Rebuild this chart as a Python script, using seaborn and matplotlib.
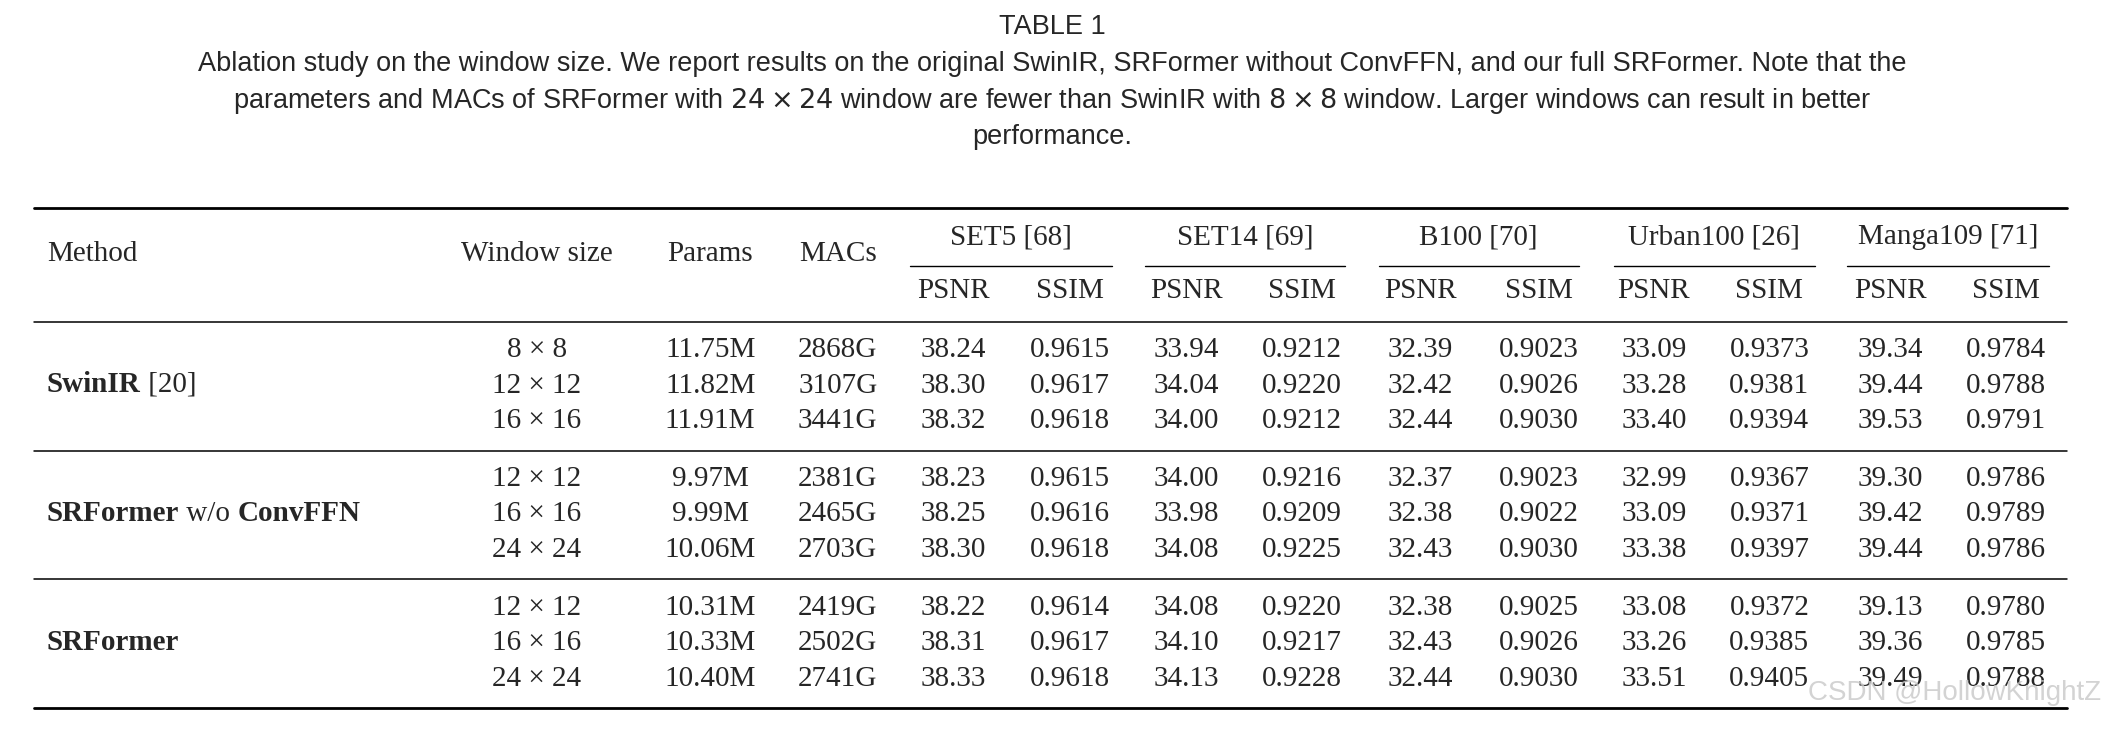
import matplotlib
matplotlib.use("Agg")
import matplotlib.pyplot as plt
import seaborn as sns

sns.set_theme(style="white")
plt.rcParams['font.family'] = ['Liberation Serif', 'DejaVu Serif']

# table data
methods = [("SwinIR", "", " [20]"), ("SRFormer", " w/o ", "ConvFFN"), ("SRFormer", "", "")]
windows = [["8 × 8", "12 × 12", "16 × 16"],
           ["12 × 12", "16 × 16", "24 × 24"],
           ["12 × 12", "16 × 16", "24 × 24"]]
params = [["11.75M", "11.82M", "11.91M"],
          ["9.97M", "9.99M", "10.06M"],
          ["10.31M", "10.33M", "10.40M"]]
macs = [["2868G", "3107G", "3441G"],
        ["2381G", "2465G", "2703G"],
        ["2419G", "2502G", "2741G"]]
scores = [
    [["38.24", "0.9615", "33.94", "0.9212", "32.39", "0.9023", "33.09", "0.9373", "39.34", "0.9784"],
     ["38.30", "0.9617", "34.04", "0.9220", "32.42", "0.9026", "33.28", "0.9381", "39.44", "0.9788"],
     ["38.32", "0.9618", "34.00", "0.9212", "32.44", "0.9030", "33.40", "0.9394", "39.53", "0.9791"]],
    [["38.23", "0.9615", "34.00", "0.9216", "32.37", "0.9023", "32.99", "0.9367", "39.30", "0.9786"],
     ["38.25", "0.9616", "33.98", "0.9209", "32.38", "0.9022", "33.09", "0.9371", "39.42", "0.9789"],
     ["38.30", "0.9618", "34.08", "0.9225", "32.43", "0.9030", "33.38", "0.9397", "39.44", "0.9786"]],
    [["38.22", "0.9614", "34.08", "0.9220", "32.38", "0.9025", "33.08", "0.9372", "39.13", "0.9780"],
     ["38.31", "0.9617", "34.10", "0.9217", "32.43", "0.9026", "33.26", "0.9385", "39.36", "0.9785"],
     ["38.33", "0.9618", "34.13", "0.9228", "32.44", "0.9030", "33.51", "0.9405", "39.49", "0.9788"]],
]
datasets = ["SET5 [68]", "SET14 [69]", "B100 [70]", "Urban100 [26]", "Manga109 [71]"]
caption = ["Ablation study on the window size. We report results on the original SwinIR, SRFormer without ConvFFN, and our full SRFormer. Note that the",
           "parameters and MACs of SRFormer with $24\\times24$ window are fewer than SwinIR with $8\\times8$ window. Larger windows can result in better",
           "performance."]

W, H = 1568, 545
fig = plt.figure(figsize=(21.05, 7.31), dpi=100)
ax = fig.add_axes([0, 0, 1, 1])
ax.set_xlim(0, W)
ax.set_ylim(H, 0)
ax.axis('off')

fs = 21
sans = ['Liberation Sans', 'DejaVu Sans']
ax.text(784, 20, "TABLE 1", ha='center', va='center', fontsize=19.5, family=sans)
for i, line in enumerate(caption):
    ax.text(784, 48 + 27 * i, line, ha='center', va='center', fontsize=19.5, family=sans)

# rules
ax.plot([25, 1540], [155, 155], color='black', lw=2)
ax.plot([25, 1540], [528, 528], color='black', lw=2)
for y in [240, 336, 432]:
    ax.plot([25, 1540], [y, y], color='black', lw=1.1)

col_x = [710, 797, 884, 970, 1058, 1146, 1232, 1318, 1408, 1494]
spans = [(678, 828), (853, 1002), (1027, 1176), (1202, 1352), (1376, 1526)]
ax.text(35, 189, "Method", ha='left', va='center', fontsize=fs)
ax.text(400, 189, "Window size", ha='center', va='center', fontsize=fs)
ax.text(529, 189, "Params", ha='center', va='center', fontsize=fs)
ax.text(624, 189, "MACs", ha='center', va='center', fontsize=fs)
for name, (a, b) in zip(datasets, spans):
    ax.text((a + b) / 2, 177, name, ha='center', va='center', fontsize=fs)
    ax.plot([a, b], [198, 198], color='black', lw=1)
for j, x in enumerate(col_x):
    ax.text(x, 217, "PSNR" if j % 2 == 0 else "SSIM", ha='center', va='center', fontsize=fs)

fig.canvas.draw()
renderer = fig.canvas.get_renderer()
inv = ax.transData.inverted()
group_y = [261, 357, 453]
for g, (m1, m2, m3) in enumerate(methods):
    yc = group_y[g] + 26
    x = 35
    for part, bold in [(m1, True), (m2, False), (m3, g == 1)]:
        if not part:
            continue
        t = ax.text(x, yc, part, ha='left', va='center', fontsize=fs,
                    fontweight='bold' if bold else 'normal')
        bb = t.get_window_extent(renderer)
        x = inv.transform((bb.x1, bb.y0))[0]
    for r in range(3):
        y = group_y[g] + 26.5 * r
        ax.text(400, y, windows[g][r], ha='center', va='center', fontsize=fs)
        ax.text(529, y, params[g][r], ha='center', va='center', fontsize=fs)
        ax.text(624, y, macs[g][r], ha='center', va='center', fontsize=fs)
        for j, x2 in enumerate(col_x):
            ax.text(x2, y, scores[g][r][j], ha='center', va='center', fontsize=fs)

ax.text(1565, 517, "CSDN @HollowKnightZ", ha='right', va='center', fontsize=20,
        color='#c8c8c8', alpha=0.8, family=sans)

fig.savefig("out.png", dpi=100, facecolor='white')
